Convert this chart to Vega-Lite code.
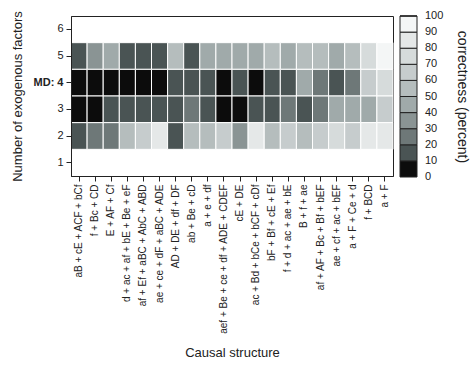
{
  "$schema": "https://vega.github.io/schema/vega-lite/v6.json",
  "width": 322,
  "height": 160,
  "autosize": "none",
  "padding": {"left": 71, "top": 16, "right": 81, "bottom": 191},
  "background": "white",
  "config": {
    "font": "Liberation Sans",
    "view": {"stroke": "#222", "strokeWidth": 1},
    "legend": {"gradientLength": 161, "gradientThickness": 17, "gradientStrokeColor": "#222", "gradientStrokeWidth": 1}
  },
  "datasets": {
    "cells": [
      {"s": "aB + cE + ACF + bCf", "n": 5, "v": 14}, {"s": "aB + cE + ACF + bCf", "n": 4, "v": 3}, {"s": "aB + cE + ACF + bCf", "n": 3, "v": 4}, {"s": "aB + cE + ACF + bCf", "n": 2, "v": 16},
      {"s": "f + Bc + CD", "n": 5, "v": 36}, {"s": "f + Bc + CD", "n": 4, "v": 2}, {"s": "f + Bc + CD", "n": 3, "v": 3}, {"s": "f + Bc + CD", "n": 2, "v": 25},
      {"s": "E + AF + Cf", "n": 5, "v": 42}, {"s": "E + AF + Cf", "n": 4, "v": 4}, {"s": "E + AF + Cf", "n": 3, "v": 17}, {"s": "E + AF + Cf", "n": 2, "v": 28},
      {"s": "d + ac + af + bE + Be + eF", "n": 5, "v": 16}, {"s": "d + ac + af + bE + Be + eF", "n": 4, "v": 3}, {"s": "d + ac + af + bE + Be + eF", "n": 3, "v": 15}, {"s": "d + ac + af + bE + Be + eF", "n": 2, "v": 54},
      {"s": "af + Ef + aBC + AbC + ABD", "n": 5, "v": 13}, {"s": "af + Ef + aBC + AbC + ABD", "n": 4, "v": 2}, {"s": "af + Ef + aBC + AbC + ABD", "n": 3, "v": 12}, {"s": "af + Ef + aBC + AbC + ABD", "n": 2, "v": 63},
      {"s": "ae + ce + dF + aBC + ADE", "n": 5, "v": 17}, {"s": "ae + ce + dF + aBC + ADE", "n": 4, "v": 5}, {"s": "ae + ce + dF + aBC + ADE", "n": 3, "v": 16}, {"s": "ae + ce + dF + aBC + ADE", "n": 2, "v": 84},
      {"s": "AD + DE + df + DF", "n": 5, "v": 53}, {"s": "AD + DE + df + DF", "n": 4, "v": 13}, {"s": "AD + DE + df + DF", "n": 3, "v": 14}, {"s": "AD + DE + df + DF", "n": 2, "v": 12},
      {"s": "ab + Be + cD", "n": 5, "v": 15}, {"s": "ab + Be + cD", "n": 4, "v": 16}, {"s": "ab + Be + cD", "n": 3, "v": 24}, {"s": "ab + Be + cD", "n": 2, "v": 52},
      {"s": "a + e + df", "n": 5, "v": 44}, {"s": "a + e + df", "n": 4, "v": 14}, {"s": "a + e + df", "n": 3, "v": 18}, {"s": "a + e + df", "n": 2, "v": 55},
      {"s": "aef + Be + ce + df + ADE + CDEF", "n": 5, "v": 41}, {"s": "aef + Be + ce + df + ADE + CDEF", "n": 4, "v": 4}, {"s": "aef + Be + ce + df + ADE + CDEF", "n": 3, "v": 3}, {"s": "aef + Be + ce + df + ADE + CDEF", "n": 2, "v": 62},
      {"s": "cE + DE", "n": 5, "v": 47}, {"s": "cE + DE", "n": 4, "v": 17}, {"s": "cE + DE", "n": 3, "v": 2}, {"s": "cE + DE", "n": 2, "v": 34},
      {"s": "ac + Bd + bCe + bCF + cDf", "n": 5, "v": 43}, {"s": "ac + Bd + bCe + bCF + cDf", "n": 4, "v": 3}, {"s": "ac + Bd + bCe + bCF + cDf", "n": 3, "v": 16}, {"s": "ac + Bd + bCe + bCF + cDf", "n": 2, "v": 83},
      {"s": "bF + Bf + cE + Ef", "n": 5, "v": 52}, {"s": "bF + Bf + cE + Ef", "n": 4, "v": 15}, {"s": "bF + Bf + cE + Ef", "n": 3, "v": 13}, {"s": "bF + Bf + cE + Ef", "n": 2, "v": 56},
      {"s": "f + d + ac + ae + bE", "n": 5, "v": 42}, {"s": "f + d + ac + ae + bE", "n": 4, "v": 12}, {"s": "f + d + ac + ae + bE", "n": 3, "v": 27}, {"s": "f + d + ac + ae + bE", "n": 2, "v": 64},
      {"s": "B + f + ae", "n": 5, "v": 54}, {"s": "B + f + ae", "n": 4, "v": 44}, {"s": "B + f + ae", "n": 3, "v": 15}, {"s": "B + f + ae", "n": 2, "v": 57},
      {"s": "af + AF + Bc + Bf + bEF", "n": 5, "v": 51}, {"s": "af + AF + Bc + Bf + bEF", "n": 4, "v": 26}, {"s": "af + AF + Bc + Bf + bEF", "n": 3, "v": 23}, {"s": "af + AF + Bc + Bf + bEF", "n": 2, "v": 65},
      {"s": "ae + cf + ac + bEF", "n": 5, "v": 45}, {"s": "ae + cf + ac + bEF", "n": 4, "v": 14}, {"s": "ae + cf + ac + bEF", "n": 3, "v": 43}, {"s": "ae + cf + ac + bEF", "n": 2, "v": 74},
      {"s": "a + F + Ce + d", "n": 5, "v": 55}, {"s": "a + F + Ce + d", "n": 4, "v": 24}, {"s": "a + F + Ce + d", "n": 3, "v": 46}, {"s": "a + F + Ce + d", "n": 2, "v": 66},
      {"s": "f + BCD", "n": 5, "v": 72}, {"s": "f + BCD", "n": 4, "v": 64}, {"s": "f + BCD", "n": 3, "v": 45}, {"s": "f + BCD", "n": 2, "v": 84},
      {"s": "a + F", "n": 5, "v": 93}, {"s": "a + F", "n": 4, "v": 73}, {"s": "a + F", "n": 3, "v": 66}, {"s": "a + F", "n": 2, "v": 86}
    ]
  },
  "data": {"name": "cells"},
  "mark": {"type": "rect", "stroke": "white", "strokeWidth": 1},
  "encoding": {
    "x": {
      "field": "s",
      "type": "nominal",
      "sort": null,
      "scale": {
        "domain": ["aB + cE + ACF + bCf", "f + Bc + CD", "E + AF + Cf", "d + ac + af + bE + Be + eF", "af + Ef + aBC + AbC + ABD", "ae + ce + dF + aBC + ADE", "AD + DE + df + DF", "ab + Be + cD", "a + e + df", "aef + Be + ce + df + ADE + CDEF", "cE + DE", "ac + Bd + bCe + bCF + cDf", "bF + Bf + cE + Ef", "f + d + ac + ae + bE", "B + f + ae", "af + AF + Bc + Bf + bEF", "ae + cf + ac + bEF", "a + F + Ce + d", "f + BCD", "a + F"],
        "paddingInner": 0,
        "paddingOuter": 0
      },
      "axis": {
        "title": "Causal structure",
        "titleFontSize": 13,
        "titleFontWeight": "normal",
        "titleColor": "#222",
        "titlePadding": 13,
        "labelAngle": -90,
        "labelFontSize": 10,
        "labelColor": "#222",
        "labelPadding": 3,
        "labelLimit": 300,
        "tickSize": 5,
        "tickColor": "#222",
        "domainColor": "#222",
        "grid": false
      }
    },
    "y": {
      "field": "n",
      "type": "ordinal",
      "scale": {"domain": [6, 5, 4, 3, 2, 1], "paddingInner": 0, "paddingOuter": 0},
      "axis": {
        "title": "Number of exogenous factors",
        "titleFontSize": 13,
        "titleFontWeight": "normal",
        "titleColor": "#222",
        "titlePadding": 9,
        "labelAngle": 0,
        "labelFontSize": 11,
        "labelColor": "#222",
        "labelPadding": 3,
        "labelExpr": "datum.value == 4 ? 'MD: 4' : datum.label",
        "labelFontWeight": {"condition": {"test": "datum.value == 4", "value": "bold"}, "value": "normal"},
        "tickSize": 5,
        "tickColor": "#222",
        "domainColor": "#222",
        "grid": false
      }
    },
    "color": {
      "field": "v",
      "type": "quantitative",
      "bin": {"step": 10, "extent": [0, 100]},
      "scale": {"range": ["#0c0c0c", "#4a5454", "#6e7878", "#8a9494", "#a0aaaa", "#b5bdbd", "#c6cccd", "#d6dbdb", "#e5e8e8", "#f4f6f6"]},
      "legend": {
        "title": "correctness (percent)",
        "type": "gradient",
        "orient": "right",
        "offset": 7,
        "direction": "vertical",
        "values": [0, 10, 20, 30, 40, 50, 60, 70, 80, 90, 100],
        "labelExpr": "format(datum.value, 'd')",
        "labelOverlap": false,
        "gradientLength": 161,
        "gradientThickness": 17,
        "labelFontSize": 11,
        "labelColor": "#222",
        "labelOffset": 8,
        "titleOrient": "right",
        "titleAngle": 270,
        "titleAnchor": "middle",
        "titleFontSize": 14,
        "titleFontWeight": "normal",
        "titleColor": "#222",
        "titlePadding": 12,
        "padding": 0,
        "encode": {"labels": {"update": {"baseline": {"value": "middle"}}}}
      }
    }
  }
}
